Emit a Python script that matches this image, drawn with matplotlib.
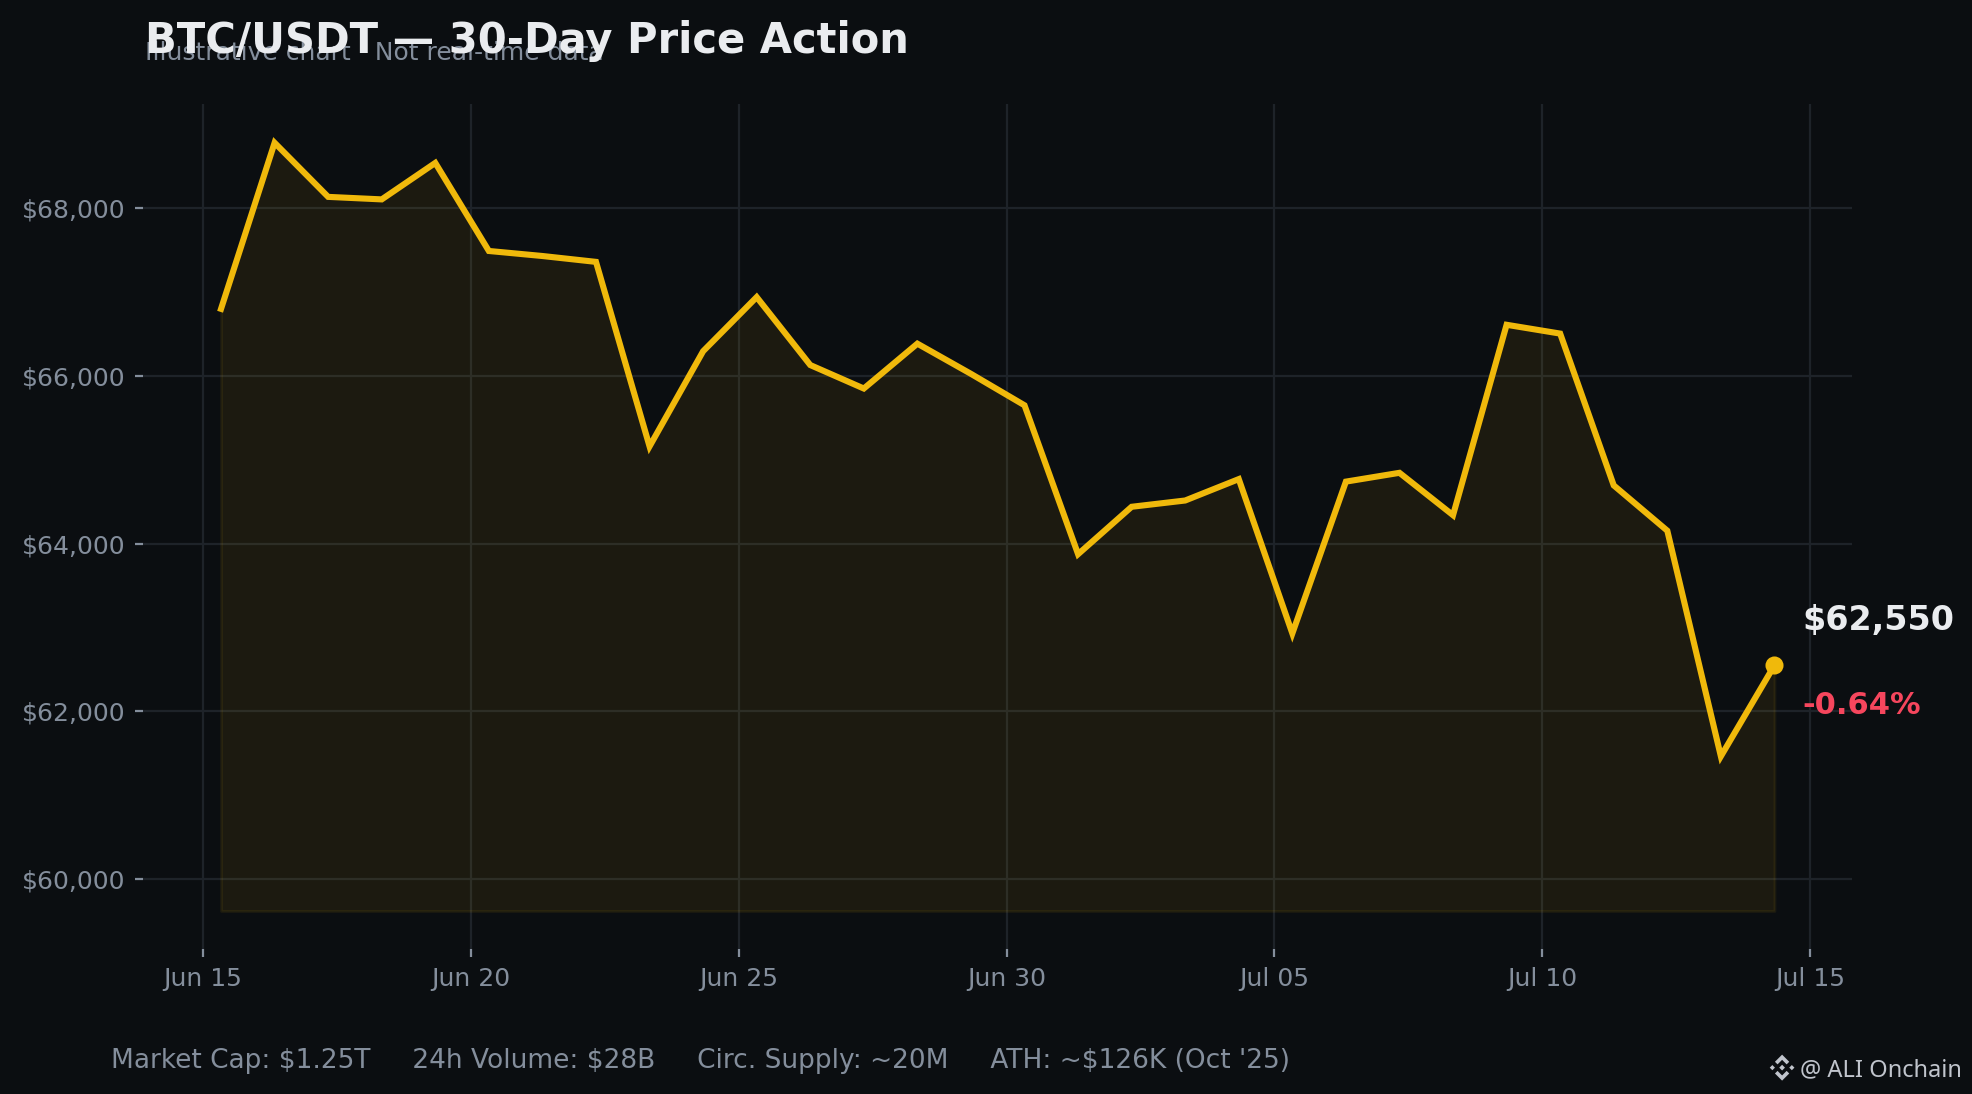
import numpy as np
import matplotlib
matplotlib.use("Agg")
import matplotlib.pyplot as plt
import matplotlib.dates as mdates
from matplotlib.patches import Polygon

# ---- data ----
start = np.datetime64("2025-06-15T08:00")
dates = start + np.arange(30) * np.timedelta64(1, "D")
prices = [66800, 68780, 68135, 68105, 68540, 67490, 67430, 67360, 65160, 66295,
          66940, 66130, 65850, 66385, 66025, 65650, 63875, 64440, 64515, 64770,
          62930, 64740, 64845, 64340, 66610, 66505, 64695, 64155, 61465, 62550]
last_price_label = "$62,550"
change_label = "-0.64%"
footer_items = ["Market Cap: $1.25T", "24h Volume: $28B",
                "Circ. Supply: ~20M", "ATH: ~$126K (Oct '25)"]

BG = "#0b0e11"
YELLOW = "#f0b90b"
GRAY = "#848e9c"
GRID = "#1e2329"
WHITE = "#eaecef"
RED = "#f6465d"

fig = plt.figure(figsize=(9.86, 5.47), dpi=200, facecolor=BG)
ax = fig.add_axes([0.0727, 0.1322, 0.8665, 0.7724], facecolor=BG)

x = dates.astype("datetime64[ms]").astype(object)
ax.plot(x, prices, color=YELLOW, lw=2.2, solid_joinstyle="miter")
ax.fill_between(x, prices, min(prices) * 0.97, color=YELLOW, alpha=0.075)
ax.plot(x[-1], prices[-1], "o", color=YELLOW, ms=5.5)

ax.annotate(last_price_label, (x[-1], prices[-1]), xytext=(10, 16),
            textcoords="offset points", va="center", ha="left",
            fontsize=12, fontweight="bold", color=WHITE)
ax.annotate(change_label, (x[-1], prices[-1]), xytext=(10, -14.5),
            textcoords="offset points", va="center", ha="left",
            fontsize=11, fontweight="bold", color=RED)

ax.xaxis.set_major_locator(mdates.DayLocator(bymonthday=[5, 10, 15, 20, 25, 30]))
ax.xaxis.set_major_formatter(mdates.DateFormatter("%b %d"))
ax.yaxis.set_major_formatter(plt.FuncFormatter(lambda v, p: f"${v:,.0f}"))
ax.tick_params(colors=GRAY, labelsize=9, length=3, width=0.8)
for s in ax.spines.values():
    s.set_visible(False)
ax.grid(True, color=GRID, lw=0.8)
ax.set_axisbelow(True)

fig.text(0.0733, 0.9517, "BTC/USDT \u2014 30-Day Price Action", fontsize=15,
         fontweight="bold", color=WHITE, va="baseline", ha="left")
fig.text(0.0733, 0.9452, "Illustrative chart \u00b7 Not real-time data", fontsize=9,
         color=GRAY, va="baseline", ha="left", zorder=0)

fig.text(0.0561, 0.024, "     ".join(footer_items), fontsize=9.5, color=GRAY,
         va="baseline", ha="left")
fig.text(0.995, 0.0166, "@ ALI Onchain", fontsize=8.5, color="#c0c4cc",
         family="Noto Sans", va="baseline", ha="right")

# small Binance-style logo next to the watermark
W, H = fig.get_size_inches() * fig.dpi
cx, cy, r = 0.9037 * W, 0.0241 * H, 13.0
shapes = [
    [(0, 1), (0.55, 0.45), (0.35, 0.25), (0, 0.6), (-0.35, 0.25), (-0.55, 0.45)],
    [(0, -1), (0.55, -0.45), (0.35, -0.25), (0, -0.6), (-0.35, -0.25), (-0.55, -0.45)],
    [(0, 0.22), (0.22, 0), (0, -0.22), (-0.22, 0)],
    [(-0.75, 0.2), (-0.55, 0), (-0.75, -0.2), (-0.95, 0)],
    [(0.75, 0.2), (0.95, 0), (0.75, -0.2), (0.55, 0)],
]
for pts in shapes:
    xy = [((cx + px * r) / W, (cy + py * r) / H) for px, py in pts]
    fig.patches.append(Polygon(xy, closed=True, transform=fig.transFigure,
                               facecolor="#c0c4cc", edgecolor="none"))

fig.savefig("out.png", dpi=200, facecolor=BG)
